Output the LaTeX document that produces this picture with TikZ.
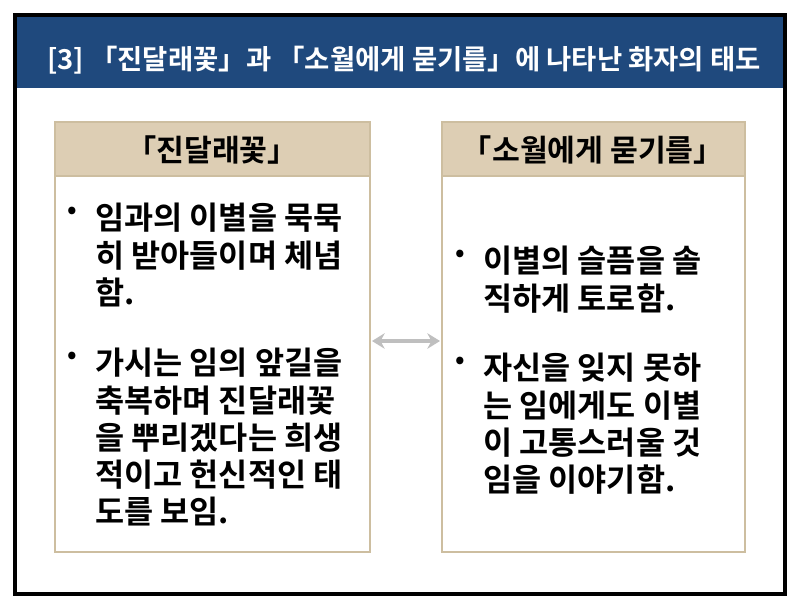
\documentclass[tikz,border=0pt]{standalone}
\usepackage{fontspec}
\setmainfont{Noto Sans CJK KR Bold}
\usetikzlibrary{arrows.meta}
\definecolor{titleblue}{RGB}{31,73,125}
\definecolor{headtan}{RGB}{221,206,180}
\definecolor{edgetan}{RGB}{205,190,160}

\begin{document}
\begin{tikzpicture}[x=0.025cm, y=-0.025cm,
    headbox/.style={draw=edgetan, fill=headtan, line width=1pt},
    bodybox/.style={draw=edgetan, fill=white, line width=1pt},
    headtext/.style={font=\fontsize{21.5}{24}\selectfont, text=black},
    bodytext/.style={anchor=north west, align=left, inner sep=0pt, font=\fontsize{22.5}{26.5}\selectfont},
    bullet/.style={anchor=north west, inner sep=0pt, font=\fontsize{18}{26.5}\selectfont},
    arrow/.style={{Stealth[length=9pt,width=11pt]}-{Stealth[length=9pt,width=11pt]}, gray!50, line width=3pt}
]
\useasboundingbox (0,0) rectangle (800,608);

% Frame and title
\draw[line width=3pt, fill=white] (15,15) rectangle (785,594);
\fill[titleblue] (17,17) rectangle (783,88);
\node[text=white, font=\fontsize{19.5}{22}\selectfont] (title) at (404,60)
  {[3] 「진달래꽃」과 「소월에게 묻기를」에 나타난 화자의 태도};

% Left column
\draw[headbox] (55,122) rectangle (370,176);
\node[headtext] (lhead) at (212,150) {「진달래꽃」};
\draw[bodybox] (55,176) rectangle (370,552);
\node[bullet] (lb1) at (67,207) {•};
\node[bodytext] (lt1) at (95,203) {임과의 이별을 묵묵\\히 받아들이며 체념\\함.};
\node[bullet] (lb2) at (67,352) {•};
\node[bodytext] (lt2) at (95,348) {가시는 임의 앞길을\\축복하며 진달래꽃\\을 뿌리겠다는 희생\\적이고 헌신적인 태\\도를 보임.};

% Right column
\draw[headbox] (442,122) rectangle (745,176);
\node[headtext] (rhead) at (593,150) {「소월에게 묻기를」};
\draw[bodybox] (442,176) rectangle (745,552);
\node[bullet] (rb1) at (455,250) {•};
\node[bodytext] (rt1) at (483,246) {이별의 슬픔을 솔\\직하게 토로함.};
\node[bullet] (rb2) at (455,357) {•};
\node[bodytext] (rt2) at (483,353) {자신을 잊지 못하\\는 임에게도 이별\\이 고통스러울 것\\임을 이야기함.};

% Comparison arrow
\coordinate (la) at (372,341);
\coordinate (ra) at (440,341);
\draw[arrow] (la) -- (ra);
\end{tikzpicture}
\end{document}
